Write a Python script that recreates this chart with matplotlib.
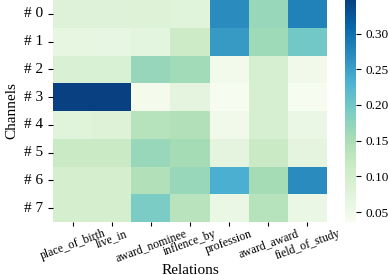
import numpy as np
import matplotlib
matplotlib.use("Agg")
import matplotlib.pyplot as plt
import seaborn as sns

relations = ["place_of_birth", "live_in", "award_nominee", "inflence_by",
             "profession", "award_award", "field_of_study"]
channels = ["# 0", "# 1", "# 2", "# 3", "# 4", "# 5", "# 6", "# 7"]

row0 = [0.080, 0.080, 0.082, 0.075, 0.270, 0.165, 0.280]
row1 = [0.065, 0.063, 0.068, 0.113, 0.255, 0.160, 0.200]
row2 = [0.088, 0.090, 0.168, 0.158, 0.045, 0.095, 0.048]
row3 = [0.347, 0.347, 0.042, 0.070, 0.036, 0.095, 0.037]
row4 = [0.075, 0.082, 0.138, 0.142, 0.048, 0.095, 0.057]
row5 = [0.117, 0.117, 0.166, 0.156, 0.070, 0.117, 0.070]
row6 = [0.098, 0.098, 0.142, 0.166, 0.235, 0.156, 0.270]
row7 = [0.098, 0.098, 0.192, 0.135, 0.057, 0.137, 0.057]

data = np.array([row0, row1, row2, row3, row4, row5, row6, row7])

plt.rcParams['font.family'] = ['Liberation Serif', 'DejaVu Serif']

fig = plt.figure(figsize=(3.88, 2.75), dpi=100)
ax = fig.add_axes([53/388, 1 - 222/275, 274/388, 222/275])
cax = fig.add_axes([345/388, 1 - 222/275, 11/388, 222/275])

sns.heatmap(data, ax=ax, cbar_ax=cax, cmap="GnBu",
            xticklabels=relations, yticklabels=channels)
ax.set_xticklabels(relations, rotation=20, ha="center", fontsize=8.5)
ax.set_yticklabels(channels, rotation=0, fontsize=11)
ax.tick_params(axis="x", pad=1, length=3)
ax.set_xlabel("Relations", fontsize=11, labelpad=0)
ax.set_ylabel("Channels", fontsize=11)
cax.set_yticks([0.05, 0.10, 0.15, 0.20, 0.25, 0.30])
cax.tick_params(labelsize=9.5)

fig.savefig("out.png", dpi=100)
